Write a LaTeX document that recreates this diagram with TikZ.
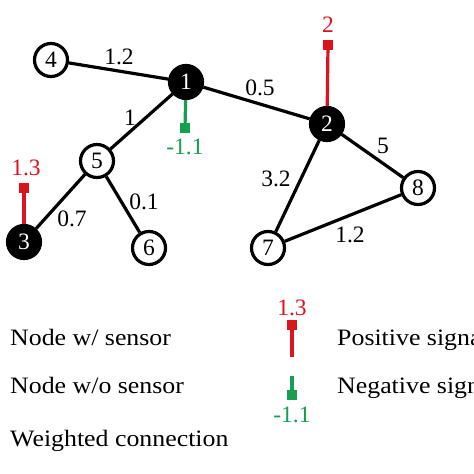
\documentclass[tikz,border=0pt]{standalone}
\usepackage{fontspec}
\setmainfont{Liberation Serif}
\definecolor{sred}{RGB}{220,20,30}
\definecolor{sgreen}{RGB}{20,160,80}
\newcommand\sxt[1]{\scalebox{1.1}[1]{#1}}
\begin{document}
\begin{tikzpicture}[x=1pt,y=-1pt,
  every node/.style={font=\fontsize{23.5}{27}\selectfont},
  vtx/.style={circle,draw=black,line width=3.2pt,minimum size=33pt,inner sep=0pt,fill=white},
  sensnode/.style={vtx,fill=black,text=white},
  edge/.style={line width=3.2pt,black},
  lbl/.style={inner sep=0pt},
  sq/.style={rectangle,inner sep=0pt,minimum size=10pt},
  posline/.style={line width=3.2pt,sred},
  negline/.style={line width=3.2pt,sgreen},
  legtext/.style={inner sep=0pt,anchor=base west}
]
\clip (0,0) rectangle (474,474);
\useasboundingbox (0,0) rectangle (474,474);
% sensors
\node[sq,fill=sgreen] (s1) at (185,128) {};
\node[sq,fill=sred] (s2) at (328,45) {};
\node[sq,fill=sred] (s3) at (24,188) {};
% nodes
\node[sensnode] (n1) at (186,82) {1};
\node[sensnode] (n2) at (327,124) {2};
\node[sensnode] (n3) at (24,242) {3};
\node[vtx] (n4) at (51,60) {4};
\node[vtx] (n5) at (97,161) {5};
\node[vtx] (n6) at (149,248) {6};
\node[vtx] (n7) at (268,248) {7};
\node[vtx] (n8) at (418,188) {8};
\draw[edge] (n4) -- (n1);
\draw[edge] (n1) -- (n2);
\draw[edge] (n1) -- (n5);
\draw[edge] (n5) -- (n3);
\draw[edge] (n5) -- (n6);
\draw[edge] (n2) -- (n7);
\draw[edge] (n2) -- (n8);
\draw[edge] (n7) -- (n8);
\draw[negline] (n1) -- (s1);
\draw[posline] (s2) -- (n2);
\draw[posline] (s3) -- (n3);
% edge labels
\node[lbl] (w41) at (119,57) {1.2};
\node[lbl] (w12) at (260,88) {0.5};
\node[lbl] (w15) at (130,118) {1};
\node[lbl] (w53) at (72,219) {0.7};
\node[lbl] (w56) at (144,202) {0.1};
\node[lbl] (w27) at (276,179) {3.2};
\node[lbl] (w28) at (383,146) {5};
\node[lbl] (w78) at (350,235) {1.2};
% sensor labels
\node[lbl,text=sgreen] (v1) at (185,147) {-1.1};
\node[lbl,text=sred] (v2) at (328,25) {2};
\node[lbl,text=sred] (v3) at (26,168) {1.3};
% legend
\node[legtext] (t1) at (10,345) {\sxt{Node w/ sensor}};
\node[legtext] (t2) at (10,393) {\sxt{Node w/o sensor}};
\node[legtext] (t3) at (10,446) {\sxt{Weighted connection}};
\node[sq,fill=sred] (ls1) at (292,325) {};
\coordinate (le1) at (292,357);
\draw[posline] (ls1) -- (le1);
\node[lbl,text=sred] (lv1) at (292,308) {1.3};
\node[sq,fill=sgreen] (ls2) at (292,395) {};
\coordinate (le2) at (292,376);
\draw[negline] (le2) -- (ls2);
\node[lbl,text=sgreen] (lv2) at (292,415) {-1.1};
\node[legtext] (t4) at (337,345) {\sxt{Positive signal}};
\node[legtext] (t5) at (337,393) {\sxt{Negative signal}};
\end{tikzpicture}
\end{document}
